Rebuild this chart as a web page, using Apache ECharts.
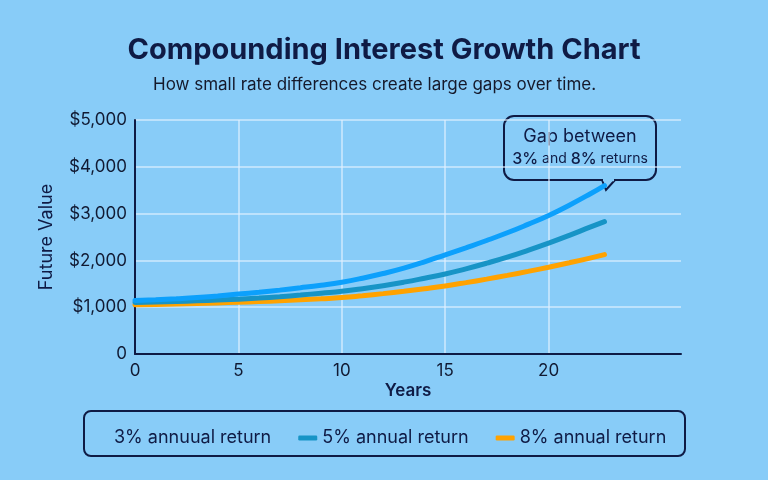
<!DOCTYPE html>
<html>
<head>
<meta charset="utf-8">
<style>
  html, body { margin: 0; padding: 0; background: #88ccf8; }
  #chart { width: 768px; height: 480px; }
</style>
<script src="https://cdn.jsdelivr.net/npm/echarts@6/dist/echarts.min.js"></script>
</head>
<body>
<div id="chart"></div>
<script>
  // years on the x axis (lines stop a bit before year 23)
  const years = [0, 1, 2, 3, 4, 5, 6, 7, 8, 9, 10, 11, 12, 13, 14, 15, 16, 17, 18, 19, 20, 21, 22, 22.7]

  // values
  const topLine = [1145, 1160, 1180, 1205, 1240, 1280, 1320, 1365, 1415, 1470, 1535, 1620, 1720, 1835, 1970, 2120, 2270, 2425, 2590, 2770, 2960, 3180, 3420, 3600]
  const midLine = [1100, 1110, 1122, 1137, 1152, 1170, 1195, 1225, 1260, 1300, 1340, 1395, 1460, 1535, 1620, 1710, 1820, 1940, 2070, 2215, 2370, 2535, 2710, 2830]
  const lowLine = [1050, 1058, 1068, 1080, 1092, 1105, 1120, 1138, 1158, 1180, 1205, 1245, 1290, 1340, 1395, 1455, 1525, 1600, 1680, 1765, 1855, 1950, 2050, 2125]

  const seriesNames = ['3% annuual return', '5% annual return', '8% annual return']
  const seriesColors = ['#0ca0fc', '#1794c6', '#ffa200']
  const yTicks = [0, 1000, 2000, 3000, 4000, 5000]

  const navy = '#0f1b45'
  const gridColor = 'rgba(225, 240, 255, 0.6)'
  const font = 'Inter, "Noto Sans", sans-serif'

  const toPairs = vals => years.map((y, i) => [y, vals[i]])

  const chart = echarts.init(document.getElementById('chart'))

  const option = {
    backgroundColor: '#88ccf8',
    animation: false,
    textStyle: { fontFamily: font },
    title: [
      {
        text: 'Compounding Interest Growth Chart',
        left: 'center',
        top: 31,
        textStyle: { fontSize: 29, fontWeight: 700, color: navy, fontFamily: font }
      },
      {
        text: 'How small rate differences create large gaps over time.',
        left: 148,
        top: 71,
        textStyle: { fontSize: 17, fontWeight: 400, color: '#15192b', fontFamily: font }
      }
    ],
    grid: {
      left: 135,
      right: 87,
      top: 120,
      bottom: 126
    },
    xAxis: {
      type: 'value',
      min: 0,
      max: 26.4,
      interval: 5,
      name: 'Years',
      nameLocation: 'middle',
      nameGap: 28,
      nameTextStyle: { fontSize: 17, fontWeight: 600, color: navy },
      axisLine: { show: true, onZero: false, lineStyle: { color: navy, width: 2 } },
      axisTick: { show: false },
      axisLabel: {
        fontSize: 17,
        color: '#111a33',
        margin: 8,
        formatter: v => (v % 5 === 0 && v <= 20 ? String(v) : '')
      },
      splitLine: {
        show: true,
        lineStyle: {
          width: 2,
          // no gridline past year 20
          color: ['transparent', gridColor, gridColor, gridColor, gridColor, 'transparent', 'transparent']
        }
      }
    },
    yAxis: {
      type: 'value',
      min: yTicks[0],
      max: yTicks[yTicks.length - 1],
      interval: 1000,
      name: 'Future Value',
      nameLocation: 'middle',
      nameGap: 79,
      nameRotate: 90,
      nameTextStyle: { fontSize: 18, color: navy },
      axisLine: { show: true, lineStyle: { color: navy, width: 2 } },
      axisTick: { show: false },
      axisLabel: {
        fontSize: 17,
        color: '#111a33',
        margin: 8,
        formatter: v => (v === 0 ? '0' : '$' + v.toLocaleString('en-US'))
      },
      splitLine: { show: true, lineStyle: { color: gridColor, width: 2 } }
    },
    legend: {
      left: 85,
      top: 424,
      itemWidth: 19,
      itemHeight: 5,
      itemGap: 27,
      icon: 'roundRect',
      textStyle: { fontSize: 18, color: navy },
      data: [
        { name: seriesNames[0], itemStyle: { opacity: 0 } },
        { name: seriesNames[1] },
        { name: seriesNames[2] }
      ]
    },
    graphic: [
      // legend frame
      {
        type: 'rect',
        z: 0,
        shape: { x: 84, y: 411, width: 601, height: 45, r: 7 },
        style: { fill: 'transparent', stroke: navy, lineWidth: 2 }
      },
      // callout bubble
      {
        type: 'group',
        z: 100,
        children: [
          {
            type: 'rect',
            shape: { x: 504, y: 116, width: 152, height: 64, r: 10 },
            style: { fill: '#88ccf8', stroke: navy, lineWidth: 2 }
          },
          {
            type: 'polyline',
            shape: { points: [[602, 180], [606, 190], [615, 180]] },
            style: { fill: '#88ccf8', stroke: navy, lineWidth: 2 }
          },
          {
            type: 'line',
            shape: { x1: 603, y1: 180, x2: 614, y2: 180 },
            style: { stroke: '#88ccf8', lineWidth: 2.4 }
          },
          {
            type: 'text',
            style: {
              x: 580, y: 137,
              text: 'Gap between',
              align: 'center',
              verticalAlign: 'middle',
              font: '18px ' + font,
              fill: navy
            }
          },
          {
            type: 'text',
            style: {
              x: 580, y: 159,
              text: '{b|3%} and {b|8%} returns',
              align: 'center',
              verticalAlign: 'middle',
              fontSize: 14,
              fontFamily: font,
              fill: navy,
              rich: {
                b: { fontSize: 16, fontWeight: 500, fontFamily: font, fill: navy }
              }
            }
          }
        ]
      }
    ],
    series: [topLine, midLine, lowLine].map((vals, i) => ({
      name: seriesNames[i],
      type: 'line',
      data: toPairs(vals),
      smooth: true,
      showSymbol: false,
      symbol: 'none',
      z: 10 - i,
      itemStyle: { color: seriesColors[i] },
      lineStyle: { color: seriesColors[i], width: 5, cap: 'round' }
    }))
  }

  chart.setOption(option)
</script>
</body>
</html>
